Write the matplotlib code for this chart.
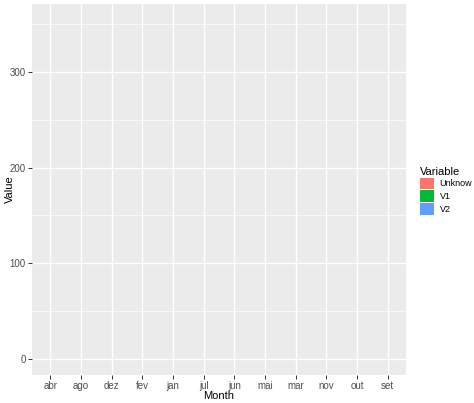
import matplotlib
matplotlib.use("Agg")
import matplotlib.pyplot as plt
from matplotlib.patches import Patch
import numpy as np

plt.rcParams["font.family"] = ["Liberation Sans", "DejaVu Sans"]

# data: months (pt-BR abbreviations, alphabetical as ggplot orders them)
months = ["abr", "ago", "dez", "fev", "jan", "jul", "jun", "mai", "mar",
          "nov", "out", "set"]
variables = ["Unknow", "V1", "V2"]
colors = ["#F8766D", "#00BA38", "#619CFF"]
# bars are not visible in the reference: every value is zero
unknow_vals = [0] * 12
v1_vals = [0] * 12
v2_vals = [0] * 12
y_ticks = [0, 100, 200, 300]

fig = plt.figure(figsize=(4.74, 4.03), dpi=100)
ax = fig.add_axes([0.0675, 0.0695, 0.789, 0.9205])
ax.set_facecolor("#EBEBEB")

x = np.arange(len(months))
bottom = np.zeros(len(months))
for vals, c in zip([unknow_vals, v1_vals, v2_vals], colors):
    ax.bar(x, vals, bottom=bottom, width=0.9, color=c, linewidth=0)
    bottom += np.array(vals)

ax.set_xlim(-0.6, len(months) - 0.4)
ax.set_ylim(-17, 371)
ax.set_xticks(x)
ax.set_xticklabels(months)
ax.set_yticks(y_ticks)
ax.set_yticks([50, 150, 250, 350], minor=True)
ax.grid(which="major", color="white", lw=1.0)
ax.grid(which="minor", axis="y", color="white", lw=0.5)
ax.set_axisbelow(True)
for s in ax.spines.values():
    s.set_visible(False)
ax.tick_params(which="major", length=3, width=0.7, color="#333333",
               labelcolor="#4D4D4D", labelsize=7, pad=1.5)
ax.tick_params(which="minor", length=0)
ax.set_xlabel("Month", fontsize=8, va="center")
ax.set_ylabel("Value", fontsize=8, va="center")
ax.xaxis.set_label_coords(0.5, -0.057)
ax.yaxis.set_label_coords(-0.059, 0.5)

handles = [Patch(facecolor=c, edgecolor="none") for c in colors]
leg = fig.legend(handles, variables, title="Variable", loc="upper left",
                 bbox_to_anchor=(0.876, 0.598), frameon=False, fontsize=6.5,
                 title_fontsize=8, handlelength=1.6, handleheight=1.6,
                 handletextpad=0.6, labelspacing=0.12, borderpad=0)
leg._legend_box.align = "left"

fig.savefig("out.png", dpi=100)
